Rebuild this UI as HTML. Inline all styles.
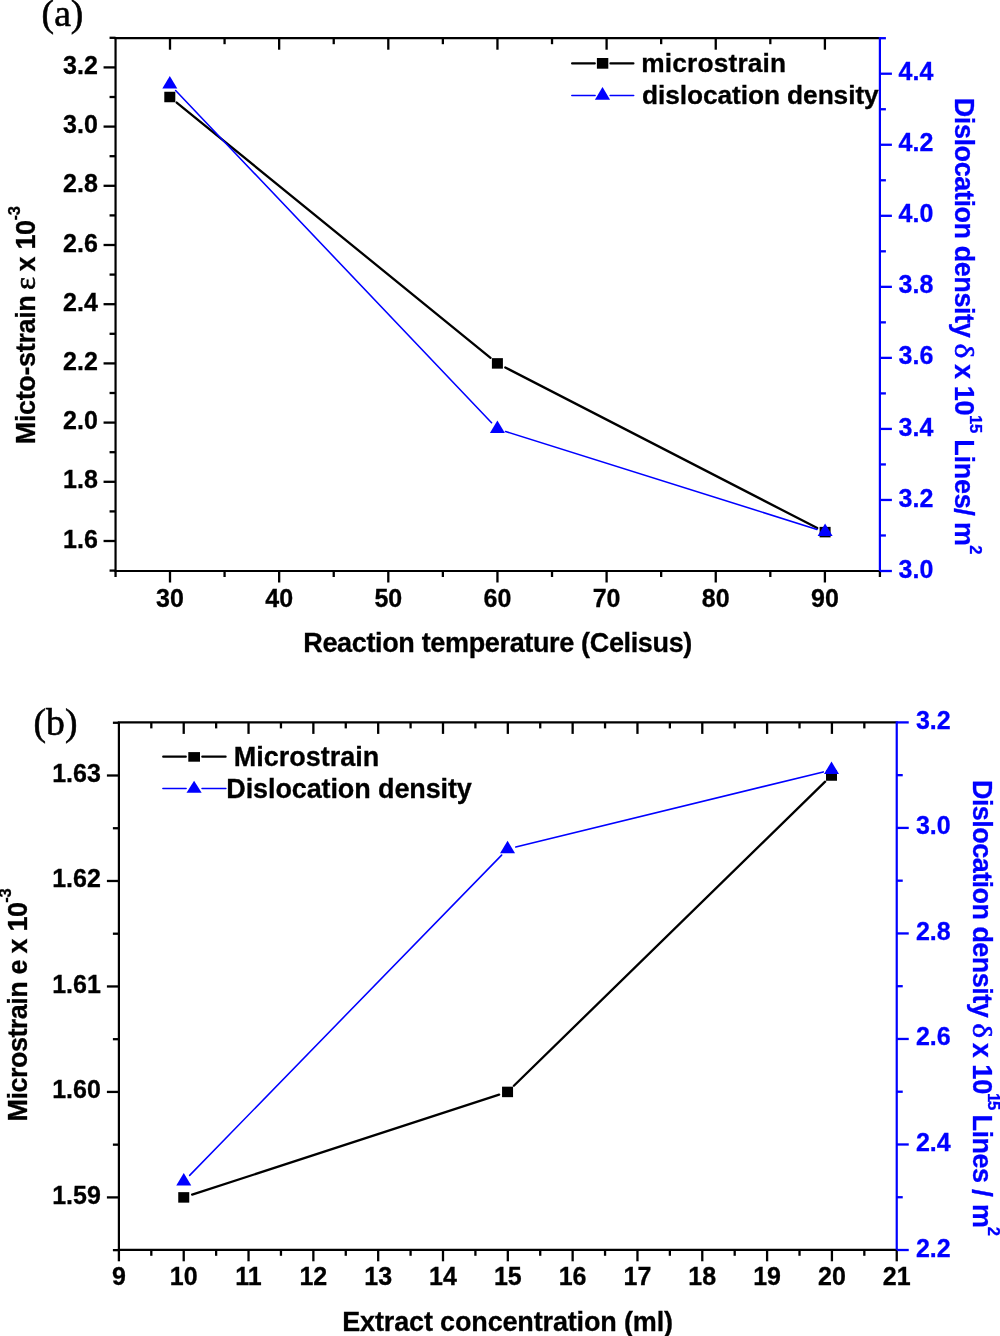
<!DOCTYPE html>
<html><head><meta charset="utf-8"><title>Microstrain and dislocation density</title>
<style>
html,body{margin:0;padding:0;background:#fff;}
svg{display:block;}
svg{font-family:'Liberation Sans', Arial, sans-serif;font-weight:bold;}
</style></head>
<body>
<svg width="1000" height="1336" viewBox="0 0 1000 1336">
<rect width="1000" height="1336" fill="#fff"/>
<line x1="115.55" y1="571.00" x2="115.55" y2="577.00" stroke="#000" stroke-width="2.3" stroke-linecap="butt"/>
<line x1="170.00" y1="571.00" x2="170.00" y2="582.50" stroke="#000" stroke-width="2.3" stroke-linecap="butt"/>
<line x1="170.00" y1="38.20" x2="170.00" y2="49.70" stroke="#000" stroke-width="2.3" stroke-linecap="butt"/>
<text x="170.00" y="606.60" text-anchor="middle" font-size="25" fill="#000" stroke="#000" stroke-width="0.3" >30</text>
<line x1="224.57" y1="571.00" x2="224.57" y2="577.00" stroke="#000" stroke-width="2.3" stroke-linecap="butt"/>
<line x1="224.57" y1="38.20" x2="224.57" y2="44.20" stroke="#000" stroke-width="2.3" stroke-linecap="butt"/>
<line x1="279.15" y1="571.00" x2="279.15" y2="582.50" stroke="#000" stroke-width="2.3" stroke-linecap="butt"/>
<line x1="279.15" y1="38.20" x2="279.15" y2="49.70" stroke="#000" stroke-width="2.3" stroke-linecap="butt"/>
<text x="279.15" y="606.60" text-anchor="middle" font-size="25" fill="#000" stroke="#000" stroke-width="0.3" >40</text>
<line x1="333.73" y1="571.00" x2="333.73" y2="577.00" stroke="#000" stroke-width="2.3" stroke-linecap="butt"/>
<line x1="333.73" y1="38.20" x2="333.73" y2="44.20" stroke="#000" stroke-width="2.3" stroke-linecap="butt"/>
<line x1="388.30" y1="571.00" x2="388.30" y2="582.50" stroke="#000" stroke-width="2.3" stroke-linecap="butt"/>
<line x1="388.30" y1="38.20" x2="388.30" y2="49.70" stroke="#000" stroke-width="2.3" stroke-linecap="butt"/>
<text x="388.30" y="606.60" text-anchor="middle" font-size="25" fill="#000" stroke="#000" stroke-width="0.3" >50</text>
<line x1="442.88" y1="571.00" x2="442.88" y2="577.00" stroke="#000" stroke-width="2.3" stroke-linecap="butt"/>
<line x1="442.88" y1="38.20" x2="442.88" y2="44.20" stroke="#000" stroke-width="2.3" stroke-linecap="butt"/>
<line x1="497.45" y1="571.00" x2="497.45" y2="582.50" stroke="#000" stroke-width="2.3" stroke-linecap="butt"/>
<line x1="497.45" y1="38.20" x2="497.45" y2="49.70" stroke="#000" stroke-width="2.3" stroke-linecap="butt"/>
<text x="497.45" y="606.60" text-anchor="middle" font-size="25" fill="#000" stroke="#000" stroke-width="0.3" >60</text>
<line x1="552.02" y1="571.00" x2="552.02" y2="577.00" stroke="#000" stroke-width="2.3" stroke-linecap="butt"/>
<line x1="552.02" y1="38.20" x2="552.02" y2="44.20" stroke="#000" stroke-width="2.3" stroke-linecap="butt"/>
<line x1="606.60" y1="571.00" x2="606.60" y2="582.50" stroke="#000" stroke-width="2.3" stroke-linecap="butt"/>
<line x1="606.60" y1="38.20" x2="606.60" y2="49.70" stroke="#000" stroke-width="2.3" stroke-linecap="butt"/>
<text x="606.60" y="606.60" text-anchor="middle" font-size="25" fill="#000" stroke="#000" stroke-width="0.3" >70</text>
<line x1="661.17" y1="571.00" x2="661.17" y2="577.00" stroke="#000" stroke-width="2.3" stroke-linecap="butt"/>
<line x1="661.17" y1="38.20" x2="661.17" y2="44.20" stroke="#000" stroke-width="2.3" stroke-linecap="butt"/>
<line x1="715.75" y1="571.00" x2="715.75" y2="582.50" stroke="#000" stroke-width="2.3" stroke-linecap="butt"/>
<line x1="715.75" y1="38.20" x2="715.75" y2="49.70" stroke="#000" stroke-width="2.3" stroke-linecap="butt"/>
<text x="715.75" y="606.60" text-anchor="middle" font-size="25" fill="#000" stroke="#000" stroke-width="0.3" >80</text>
<line x1="770.32" y1="571.00" x2="770.32" y2="577.00" stroke="#000" stroke-width="2.3" stroke-linecap="butt"/>
<line x1="770.32" y1="38.20" x2="770.32" y2="44.20" stroke="#000" stroke-width="2.3" stroke-linecap="butt"/>
<line x1="824.90" y1="571.00" x2="824.90" y2="582.50" stroke="#000" stroke-width="2.3" stroke-linecap="butt"/>
<line x1="824.90" y1="38.20" x2="824.90" y2="49.70" stroke="#000" stroke-width="2.3" stroke-linecap="butt"/>
<text x="824.90" y="606.60" text-anchor="middle" font-size="25" fill="#000" stroke="#000" stroke-width="0.3" >90</text>
<line x1="879.90" y1="571.00" x2="879.90" y2="577.00" stroke="#000" stroke-width="2.3" stroke-linecap="butt"/>
<line x1="109.55" y1="570.60" x2="115.55" y2="570.60" stroke="#000" stroke-width="2.3" stroke-linecap="butt"/>
<line x1="103.55" y1="541.00" x2="115.55" y2="541.00" stroke="#000" stroke-width="2.3" stroke-linecap="butt"/>
<text x="97.80" y="547.60" text-anchor="end" font-size="25" fill="#000" stroke="#000" stroke-width="0.3" >1.6</text>
<line x1="109.55" y1="511.40" x2="115.55" y2="511.40" stroke="#000" stroke-width="2.3" stroke-linecap="butt"/>
<line x1="103.55" y1="481.80" x2="115.55" y2="481.80" stroke="#000" stroke-width="2.3" stroke-linecap="butt"/>
<text x="97.80" y="488.40" text-anchor="end" font-size="25" fill="#000" stroke="#000" stroke-width="0.3" >1.8</text>
<line x1="109.55" y1="452.20" x2="115.55" y2="452.20" stroke="#000" stroke-width="2.3" stroke-linecap="butt"/>
<line x1="103.55" y1="422.60" x2="115.55" y2="422.60" stroke="#000" stroke-width="2.3" stroke-linecap="butt"/>
<text x="97.80" y="429.20" text-anchor="end" font-size="25" fill="#000" stroke="#000" stroke-width="0.3" >2.0</text>
<line x1="109.55" y1="393.00" x2="115.55" y2="393.00" stroke="#000" stroke-width="2.3" stroke-linecap="butt"/>
<line x1="103.55" y1="363.40" x2="115.55" y2="363.40" stroke="#000" stroke-width="2.3" stroke-linecap="butt"/>
<text x="97.80" y="370.00" text-anchor="end" font-size="25" fill="#000" stroke="#000" stroke-width="0.3" >2.2</text>
<line x1="109.55" y1="333.80" x2="115.55" y2="333.80" stroke="#000" stroke-width="2.3" stroke-linecap="butt"/>
<line x1="103.55" y1="304.20" x2="115.55" y2="304.20" stroke="#000" stroke-width="2.3" stroke-linecap="butt"/>
<text x="97.80" y="310.80" text-anchor="end" font-size="25" fill="#000" stroke="#000" stroke-width="0.3" >2.4</text>
<line x1="109.55" y1="274.60" x2="115.55" y2="274.60" stroke="#000" stroke-width="2.3" stroke-linecap="butt"/>
<line x1="103.55" y1="245.00" x2="115.55" y2="245.00" stroke="#000" stroke-width="2.3" stroke-linecap="butt"/>
<text x="97.80" y="251.60" text-anchor="end" font-size="25" fill="#000" stroke="#000" stroke-width="0.3" >2.6</text>
<line x1="109.55" y1="215.40" x2="115.55" y2="215.40" stroke="#000" stroke-width="2.3" stroke-linecap="butt"/>
<line x1="103.55" y1="185.80" x2="115.55" y2="185.80" stroke="#000" stroke-width="2.3" stroke-linecap="butt"/>
<text x="97.80" y="192.40" text-anchor="end" font-size="25" fill="#000" stroke="#000" stroke-width="0.3" >2.8</text>
<line x1="109.55" y1="156.20" x2="115.55" y2="156.20" stroke="#000" stroke-width="2.3" stroke-linecap="butt"/>
<line x1="103.55" y1="126.60" x2="115.55" y2="126.60" stroke="#000" stroke-width="2.3" stroke-linecap="butt"/>
<text x="97.80" y="133.20" text-anchor="end" font-size="25" fill="#000" stroke="#000" stroke-width="0.3" >3.0</text>
<line x1="109.55" y1="97.00" x2="115.55" y2="97.00" stroke="#000" stroke-width="2.3" stroke-linecap="butt"/>
<line x1="103.55" y1="67.40" x2="115.55" y2="67.40" stroke="#000" stroke-width="2.3" stroke-linecap="butt"/>
<text x="97.80" y="74.00" text-anchor="end" font-size="25" fill="#000" stroke="#000" stroke-width="0.3" >3.2</text>
<line x1="109.55" y1="37.80" x2="115.55" y2="37.80" stroke="#000" stroke-width="2.3" stroke-linecap="butt"/>
<line x1="879.90" y1="571.00" x2="891.90" y2="571.00" stroke="#0000ff" stroke-width="2.3" stroke-linecap="butt"/>
<text x="898.60" y="577.60" text-anchor="start" font-size="25" fill="#0000ff" stroke="#0000ff" stroke-width="0.3" >3.0</text>
<line x1="879.90" y1="535.48" x2="885.90" y2="535.48" stroke="#0000ff" stroke-width="2.3" stroke-linecap="butt"/>
<line x1="879.90" y1="499.96" x2="891.90" y2="499.96" stroke="#0000ff" stroke-width="2.3" stroke-linecap="butt"/>
<text x="898.60" y="506.56" text-anchor="start" font-size="25" fill="#0000ff" stroke="#0000ff" stroke-width="0.3" >3.2</text>
<line x1="879.90" y1="464.44" x2="885.90" y2="464.44" stroke="#0000ff" stroke-width="2.3" stroke-linecap="butt"/>
<line x1="879.90" y1="428.92" x2="891.90" y2="428.92" stroke="#0000ff" stroke-width="2.3" stroke-linecap="butt"/>
<text x="898.60" y="435.52" text-anchor="start" font-size="25" fill="#0000ff" stroke="#0000ff" stroke-width="0.3" >3.4</text>
<line x1="879.90" y1="393.40" x2="885.90" y2="393.40" stroke="#0000ff" stroke-width="2.3" stroke-linecap="butt"/>
<line x1="879.90" y1="357.88" x2="891.90" y2="357.88" stroke="#0000ff" stroke-width="2.3" stroke-linecap="butt"/>
<text x="898.60" y="364.48" text-anchor="start" font-size="25" fill="#0000ff" stroke="#0000ff" stroke-width="0.3" >3.6</text>
<line x1="879.90" y1="322.36" x2="885.90" y2="322.36" stroke="#0000ff" stroke-width="2.3" stroke-linecap="butt"/>
<line x1="879.90" y1="286.84" x2="891.90" y2="286.84" stroke="#0000ff" stroke-width="2.3" stroke-linecap="butt"/>
<text x="898.60" y="293.44" text-anchor="start" font-size="25" fill="#0000ff" stroke="#0000ff" stroke-width="0.3" >3.8</text>
<line x1="879.90" y1="251.32" x2="885.90" y2="251.32" stroke="#0000ff" stroke-width="2.3" stroke-linecap="butt"/>
<line x1="879.90" y1="215.80" x2="891.90" y2="215.80" stroke="#0000ff" stroke-width="2.3" stroke-linecap="butt"/>
<text x="898.60" y="222.40" text-anchor="start" font-size="25" fill="#0000ff" stroke="#0000ff" stroke-width="0.3" >4.0</text>
<line x1="879.90" y1="180.28" x2="885.90" y2="180.28" stroke="#0000ff" stroke-width="2.3" stroke-linecap="butt"/>
<line x1="879.90" y1="144.76" x2="891.90" y2="144.76" stroke="#0000ff" stroke-width="2.3" stroke-linecap="butt"/>
<text x="898.60" y="151.36" text-anchor="start" font-size="25" fill="#0000ff" stroke="#0000ff" stroke-width="0.3" >4.2</text>
<line x1="879.90" y1="109.24" x2="885.90" y2="109.24" stroke="#0000ff" stroke-width="2.3" stroke-linecap="butt"/>
<line x1="879.90" y1="73.72" x2="891.90" y2="73.72" stroke="#0000ff" stroke-width="2.3" stroke-linecap="butt"/>
<text x="898.60" y="80.32" text-anchor="start" font-size="25" fill="#0000ff" stroke="#0000ff" stroke-width="0.3" >4.4</text>
<line x1="879.90" y1="38.20" x2="885.90" y2="38.20" stroke="#0000ff" stroke-width="2.3" stroke-linecap="butt"/>
<line x1="114.45" y1="38.20" x2="879.90" y2="38.20" stroke="#000" stroke-width="2.2" stroke-linecap="butt"/>
<line x1="114.45" y1="571.00" x2="879.90" y2="571.00" stroke="#000" stroke-width="2.2" stroke-linecap="butt"/>
<line x1="115.55" y1="38.20" x2="115.55" y2="572.10" stroke="#000" stroke-width="2.2" stroke-linecap="butt"/>
<line x1="879.90" y1="37.10" x2="879.90" y2="571.00" stroke="#0000ff" stroke-width="2.2" stroke-linecap="butt"/>
<line x1="176.67" y1="102.58" x2="490.53" y2="357.82" stroke="#000" stroke-width="2.3" stroke-linecap="round"/>
<line x1="505.27" y1="367.45" x2="817.23" y2="528.07" stroke="#000" stroke-width="2.3" stroke-linecap="round"/>
<rect x="164.30" y="91.75" width="11" height="10.5" fill="#000"/>
<rect x="491.90" y="358.15" width="11" height="10.5" fill="#000"/>
<rect x="819.60" y="526.87" width="11" height="10.5" fill="#000"/>
<line x1="175.64" y1="90.52" x2="491.56" y2="422.78" stroke="#0000ff" stroke-width="1.55" stroke-linecap="round"/>
<line x1="505.48" y1="431.46" x2="817.02" y2="529.39" stroke="#0000ff" stroke-width="1.55" stroke-linecap="round"/>
<polygon points="169.80,76.04 162.30,88.54 177.30,88.54" fill="#0000ff"/>
<polygon points="497.40,420.59 489.90,433.09 504.90,433.09" fill="#0000ff"/>
<polygon points="825.10,523.59 817.60,536.09 832.60,536.09" fill="#0000ff"/>
<line x1="118.90" y1="1249.80" x2="118.90" y2="1261.30" stroke="#000" stroke-width="2.3" stroke-linecap="butt"/>
<text x="118.90" y="1284.70" text-anchor="middle" font-size="25" fill="#000" stroke="#000" stroke-width="0.3" >9</text>
<line x1="151.31" y1="1249.80" x2="151.31" y2="1255.80" stroke="#000" stroke-width="2.3" stroke-linecap="butt"/>
<line x1="151.31" y1="722.40" x2="151.31" y2="728.40" stroke="#000" stroke-width="2.3" stroke-linecap="butt"/>
<line x1="183.72" y1="1249.80" x2="183.72" y2="1261.30" stroke="#000" stroke-width="2.3" stroke-linecap="butt"/>
<line x1="183.72" y1="722.40" x2="183.72" y2="733.90" stroke="#000" stroke-width="2.3" stroke-linecap="butt"/>
<text x="183.72" y="1284.70" text-anchor="middle" font-size="25" fill="#000" stroke="#000" stroke-width="0.3" >10</text>
<line x1="216.13" y1="1249.80" x2="216.13" y2="1255.80" stroke="#000" stroke-width="2.3" stroke-linecap="butt"/>
<line x1="216.13" y1="722.40" x2="216.13" y2="728.40" stroke="#000" stroke-width="2.3" stroke-linecap="butt"/>
<line x1="248.54" y1="1249.80" x2="248.54" y2="1261.30" stroke="#000" stroke-width="2.3" stroke-linecap="butt"/>
<line x1="248.54" y1="722.40" x2="248.54" y2="733.90" stroke="#000" stroke-width="2.3" stroke-linecap="butt"/>
<text x="248.54" y="1284.70" text-anchor="middle" font-size="25" fill="#000" stroke="#000" stroke-width="0.3" >11</text>
<line x1="280.95" y1="1249.80" x2="280.95" y2="1255.80" stroke="#000" stroke-width="2.3" stroke-linecap="butt"/>
<line x1="280.95" y1="722.40" x2="280.95" y2="728.40" stroke="#000" stroke-width="2.3" stroke-linecap="butt"/>
<line x1="313.36" y1="1249.80" x2="313.36" y2="1261.30" stroke="#000" stroke-width="2.3" stroke-linecap="butt"/>
<line x1="313.36" y1="722.40" x2="313.36" y2="733.90" stroke="#000" stroke-width="2.3" stroke-linecap="butt"/>
<text x="313.36" y="1284.70" text-anchor="middle" font-size="25" fill="#000" stroke="#000" stroke-width="0.3" >12</text>
<line x1="345.77" y1="1249.80" x2="345.77" y2="1255.80" stroke="#000" stroke-width="2.3" stroke-linecap="butt"/>
<line x1="345.77" y1="722.40" x2="345.77" y2="728.40" stroke="#000" stroke-width="2.3" stroke-linecap="butt"/>
<line x1="378.18" y1="1249.80" x2="378.18" y2="1261.30" stroke="#000" stroke-width="2.3" stroke-linecap="butt"/>
<line x1="378.18" y1="722.40" x2="378.18" y2="733.90" stroke="#000" stroke-width="2.3" stroke-linecap="butt"/>
<text x="378.18" y="1284.70" text-anchor="middle" font-size="25" fill="#000" stroke="#000" stroke-width="0.3" >13</text>
<line x1="410.59" y1="1249.80" x2="410.59" y2="1255.80" stroke="#000" stroke-width="2.3" stroke-linecap="butt"/>
<line x1="410.59" y1="722.40" x2="410.59" y2="728.40" stroke="#000" stroke-width="2.3" stroke-linecap="butt"/>
<line x1="443.00" y1="1249.80" x2="443.00" y2="1261.30" stroke="#000" stroke-width="2.3" stroke-linecap="butt"/>
<line x1="443.00" y1="722.40" x2="443.00" y2="733.90" stroke="#000" stroke-width="2.3" stroke-linecap="butt"/>
<text x="443.00" y="1284.70" text-anchor="middle" font-size="25" fill="#000" stroke="#000" stroke-width="0.3" >14</text>
<line x1="475.41" y1="1249.80" x2="475.41" y2="1255.80" stroke="#000" stroke-width="2.3" stroke-linecap="butt"/>
<line x1="475.41" y1="722.40" x2="475.41" y2="728.40" stroke="#000" stroke-width="2.3" stroke-linecap="butt"/>
<line x1="507.82" y1="1249.80" x2="507.82" y2="1261.30" stroke="#000" stroke-width="2.3" stroke-linecap="butt"/>
<line x1="507.82" y1="722.40" x2="507.82" y2="733.90" stroke="#000" stroke-width="2.3" stroke-linecap="butt"/>
<text x="507.82" y="1284.70" text-anchor="middle" font-size="25" fill="#000" stroke="#000" stroke-width="0.3" >15</text>
<line x1="540.23" y1="1249.80" x2="540.23" y2="1255.80" stroke="#000" stroke-width="2.3" stroke-linecap="butt"/>
<line x1="540.23" y1="722.40" x2="540.23" y2="728.40" stroke="#000" stroke-width="2.3" stroke-linecap="butt"/>
<line x1="572.64" y1="1249.80" x2="572.64" y2="1261.30" stroke="#000" stroke-width="2.3" stroke-linecap="butt"/>
<line x1="572.64" y1="722.40" x2="572.64" y2="733.90" stroke="#000" stroke-width="2.3" stroke-linecap="butt"/>
<text x="572.64" y="1284.70" text-anchor="middle" font-size="25" fill="#000" stroke="#000" stroke-width="0.3" >16</text>
<line x1="605.05" y1="1249.80" x2="605.05" y2="1255.80" stroke="#000" stroke-width="2.3" stroke-linecap="butt"/>
<line x1="605.05" y1="722.40" x2="605.05" y2="728.40" stroke="#000" stroke-width="2.3" stroke-linecap="butt"/>
<line x1="637.46" y1="1249.80" x2="637.46" y2="1261.30" stroke="#000" stroke-width="2.3" stroke-linecap="butt"/>
<line x1="637.46" y1="722.40" x2="637.46" y2="733.90" stroke="#000" stroke-width="2.3" stroke-linecap="butt"/>
<text x="637.46" y="1284.70" text-anchor="middle" font-size="25" fill="#000" stroke="#000" stroke-width="0.3" >17</text>
<line x1="669.87" y1="1249.80" x2="669.87" y2="1255.80" stroke="#000" stroke-width="2.3" stroke-linecap="butt"/>
<line x1="669.87" y1="722.40" x2="669.87" y2="728.40" stroke="#000" stroke-width="2.3" stroke-linecap="butt"/>
<line x1="702.28" y1="1249.80" x2="702.28" y2="1261.30" stroke="#000" stroke-width="2.3" stroke-linecap="butt"/>
<line x1="702.28" y1="722.40" x2="702.28" y2="733.90" stroke="#000" stroke-width="2.3" stroke-linecap="butt"/>
<text x="702.28" y="1284.70" text-anchor="middle" font-size="25" fill="#000" stroke="#000" stroke-width="0.3" >18</text>
<line x1="734.69" y1="1249.80" x2="734.69" y2="1255.80" stroke="#000" stroke-width="2.3" stroke-linecap="butt"/>
<line x1="734.69" y1="722.40" x2="734.69" y2="728.40" stroke="#000" stroke-width="2.3" stroke-linecap="butt"/>
<line x1="767.10" y1="1249.80" x2="767.10" y2="1261.30" stroke="#000" stroke-width="2.3" stroke-linecap="butt"/>
<line x1="767.10" y1="722.40" x2="767.10" y2="733.90" stroke="#000" stroke-width="2.3" stroke-linecap="butt"/>
<text x="767.10" y="1284.70" text-anchor="middle" font-size="25" fill="#000" stroke="#000" stroke-width="0.3" >19</text>
<line x1="799.51" y1="1249.80" x2="799.51" y2="1255.80" stroke="#000" stroke-width="2.3" stroke-linecap="butt"/>
<line x1="799.51" y1="722.40" x2="799.51" y2="728.40" stroke="#000" stroke-width="2.3" stroke-linecap="butt"/>
<line x1="831.92" y1="1249.80" x2="831.92" y2="1261.30" stroke="#000" stroke-width="2.3" stroke-linecap="butt"/>
<line x1="831.92" y1="722.40" x2="831.92" y2="733.90" stroke="#000" stroke-width="2.3" stroke-linecap="butt"/>
<text x="831.92" y="1284.70" text-anchor="middle" font-size="25" fill="#000" stroke="#000" stroke-width="0.3" >20</text>
<line x1="864.33" y1="1249.80" x2="864.33" y2="1255.80" stroke="#000" stroke-width="2.3" stroke-linecap="butt"/>
<line x1="864.33" y1="722.40" x2="864.33" y2="728.40" stroke="#000" stroke-width="2.3" stroke-linecap="butt"/>
<line x1="896.74" y1="1249.80" x2="896.74" y2="1261.30" stroke="#000" stroke-width="2.3" stroke-linecap="butt"/>
<text x="896.74" y="1284.70" text-anchor="middle" font-size="25" fill="#000" stroke="#000" stroke-width="0.3" >21</text>
<line x1="112.90" y1="1250.14" x2="118.90" y2="1250.14" stroke="#000" stroke-width="2.3" stroke-linecap="butt"/>
<line x1="106.90" y1="1197.40" x2="118.90" y2="1197.40" stroke="#000" stroke-width="2.3" stroke-linecap="butt"/>
<text x="100.80" y="1203.90" text-anchor="end" font-size="25" fill="#000" stroke="#000" stroke-width="0.3" >1.59</text>
<line x1="112.90" y1="1144.66" x2="118.90" y2="1144.66" stroke="#000" stroke-width="2.3" stroke-linecap="butt"/>
<line x1="106.90" y1="1091.93" x2="118.90" y2="1091.93" stroke="#000" stroke-width="2.3" stroke-linecap="butt"/>
<text x="100.80" y="1098.43" text-anchor="end" font-size="25" fill="#000" stroke="#000" stroke-width="0.3" >1.60</text>
<line x1="112.90" y1="1039.19" x2="118.90" y2="1039.19" stroke="#000" stroke-width="2.3" stroke-linecap="butt"/>
<line x1="106.90" y1="986.45" x2="118.90" y2="986.45" stroke="#000" stroke-width="2.3" stroke-linecap="butt"/>
<text x="100.80" y="992.95" text-anchor="end" font-size="25" fill="#000" stroke="#000" stroke-width="0.3" >1.61</text>
<line x1="112.90" y1="933.71" x2="118.90" y2="933.71" stroke="#000" stroke-width="2.3" stroke-linecap="butt"/>
<line x1="106.90" y1="880.98" x2="118.90" y2="880.98" stroke="#000" stroke-width="2.3" stroke-linecap="butt"/>
<text x="100.80" y="887.48" text-anchor="end" font-size="25" fill="#000" stroke="#000" stroke-width="0.3" >1.62</text>
<line x1="112.90" y1="828.24" x2="118.90" y2="828.24" stroke="#000" stroke-width="2.3" stroke-linecap="butt"/>
<line x1="106.90" y1="775.50" x2="118.90" y2="775.50" stroke="#000" stroke-width="2.3" stroke-linecap="butt"/>
<text x="100.80" y="782.00" text-anchor="end" font-size="25" fill="#000" stroke="#000" stroke-width="0.3" >1.63</text>
<line x1="112.90" y1="722.76" x2="118.90" y2="722.76" stroke="#000" stroke-width="2.3" stroke-linecap="butt"/>
<line x1="896.74" y1="1250.00" x2="908.74" y2="1250.00" stroke="#0000ff" stroke-width="2.3" stroke-linecap="butt"/>
<text x="915.90" y="1256.50" text-anchor="start" font-size="25" fill="#0000ff" stroke="#0000ff" stroke-width="0.3" >2.2</text>
<line x1="896.74" y1="1197.24" x2="902.74" y2="1197.24" stroke="#0000ff" stroke-width="2.3" stroke-linecap="butt"/>
<line x1="896.74" y1="1144.48" x2="908.74" y2="1144.48" stroke="#0000ff" stroke-width="2.3" stroke-linecap="butt"/>
<text x="915.90" y="1150.98" text-anchor="start" font-size="25" fill="#0000ff" stroke="#0000ff" stroke-width="0.3" >2.4</text>
<line x1="896.74" y1="1091.72" x2="902.74" y2="1091.72" stroke="#0000ff" stroke-width="2.3" stroke-linecap="butt"/>
<line x1="896.74" y1="1038.96" x2="908.74" y2="1038.96" stroke="#0000ff" stroke-width="2.3" stroke-linecap="butt"/>
<text x="915.90" y="1045.46" text-anchor="start" font-size="25" fill="#0000ff" stroke="#0000ff" stroke-width="0.3" >2.6</text>
<line x1="896.74" y1="986.20" x2="902.74" y2="986.20" stroke="#0000ff" stroke-width="2.3" stroke-linecap="butt"/>
<line x1="896.74" y1="933.44" x2="908.74" y2="933.44" stroke="#0000ff" stroke-width="2.3" stroke-linecap="butt"/>
<text x="915.90" y="939.94" text-anchor="start" font-size="25" fill="#0000ff" stroke="#0000ff" stroke-width="0.3" >2.8</text>
<line x1="896.74" y1="880.68" x2="902.74" y2="880.68" stroke="#0000ff" stroke-width="2.3" stroke-linecap="butt"/>
<line x1="896.74" y1="827.92" x2="908.74" y2="827.92" stroke="#0000ff" stroke-width="2.3" stroke-linecap="butt"/>
<text x="915.90" y="834.42" text-anchor="start" font-size="25" fill="#0000ff" stroke="#0000ff" stroke-width="0.3" >3.0</text>
<line x1="896.74" y1="775.16" x2="902.74" y2="775.16" stroke="#0000ff" stroke-width="2.3" stroke-linecap="butt"/>
<line x1="896.74" y1="722.40" x2="908.74" y2="722.40" stroke="#0000ff" stroke-width="2.3" stroke-linecap="butt"/>
<text x="915.90" y="728.90" text-anchor="start" font-size="25" fill="#0000ff" stroke="#0000ff" stroke-width="0.3" >3.2</text>
<line x1="117.80" y1="722.40" x2="896.74" y2="722.40" stroke="#000" stroke-width="2.2" stroke-linecap="butt"/>
<line x1="117.80" y1="1249.80" x2="896.74" y2="1249.80" stroke="#000" stroke-width="2.2" stroke-linecap="butt"/>
<line x1="118.90" y1="722.40" x2="118.90" y2="1250.90" stroke="#000" stroke-width="2.2" stroke-linecap="butt"/>
<line x1="896.74" y1="721.30" x2="896.74" y2="1249.80" stroke="#0000ff" stroke-width="2.2" stroke-linecap="butt"/>
<line x1="192.16" y1="1194.66" x2="499.14" y2="1094.67" stroke="#000" stroke-width="2.3" stroke-linecap="round"/>
<line x1="513.88" y1="1085.74" x2="825.17" y2="781.68" stroke="#000" stroke-width="2.3" stroke-linecap="round"/>
<rect x="178.25" y="1192.15" width="11" height="10.5" fill="#000"/>
<rect x="502.05" y="1086.67" width="11" height="10.5" fill="#000"/>
<rect x="826.00" y="770.25" width="11" height="10.5" fill="#000"/>
<line x1="189.66" y1="1175.34" x2="501.64" y2="855.09" stroke="#0000ff" stroke-width="1.55" stroke-linecap="round"/>
<line x1="515.78" y1="847.01" x2="823.27" y2="771.90" stroke="#0000ff" stroke-width="1.55" stroke-linecap="round"/>
<polygon points="183.75,1173.08 176.25,1185.58 191.25,1185.58" fill="#0000ff"/>
<polygon points="507.55,840.69 500.05,853.19 515.05,853.19" fill="#0000ff"/>
<polygon points="831.50,761.55 824.00,774.05 839.00,774.05" fill="#0000ff"/>
<line x1="572.10" y1="63.40" x2="594.80" y2="63.40" stroke="#000" stroke-width="2.2" stroke-linecap="round"/>
<line x1="610.40" y1="63.40" x2="633.40" y2="63.40" stroke="#000" stroke-width="2.2" stroke-linecap="round"/>
<rect x="596.90" y="58.00" width="11.4" height="10.7" fill="#000"/>
<line x1="571.80" y1="95.50" x2="595.10" y2="95.50" stroke="#0000ff" stroke-width="1.5" stroke-linecap="round"/>
<line x1="610.10" y1="95.50" x2="633.70" y2="95.50" stroke="#0000ff" stroke-width="1.5" stroke-linecap="round"/>
<polygon points="602.50,87.00 594.90,99.80 610.10,99.80" fill="#0000ff"/>
<line x1="163.20" y1="756.70" x2="185.80" y2="756.70" stroke="#000" stroke-width="2.2" stroke-linecap="round"/>
<line x1="202.30" y1="756.70" x2="225.60" y2="756.70" stroke="#000" stroke-width="2.2" stroke-linecap="round"/>
<rect x="188.30" y="752.10" width="11.7" height="9.6" fill="#000"/>
<line x1="162.90" y1="788.40" x2="186.10" y2="788.40" stroke="#0000ff" stroke-width="1.5" stroke-linecap="round"/>
<line x1="202.00" y1="788.40" x2="225.90" y2="788.40" stroke="#0000ff" stroke-width="1.5" stroke-linecap="round"/>
<polygon points="194.10,780.70 186.50,792.80 201.70,792.80" fill="#0000ff"/>
<text transform="translate(641.25,72.00)" font-size="26.3" fill="#000" stroke="#000" stroke-width="0.3" style="font-family:'Liberation Sans', Arial, sans-serif;font-weight:bold;letter-spacing:0.165px">microstrain</text>
<text transform="translate(642.00,104.00)" font-size="26.3" fill="#000" stroke="#000" stroke-width="0.3" style="font-family:'Liberation Sans', Arial, sans-serif;font-weight:bold;letter-spacing:-0.083px">dislocation density</text>
<text transform="translate(233.85,765.90)" font-size="27" fill="#000" stroke="#000" stroke-width="0.3" style="font-family:'Liberation Sans', Arial, sans-serif;font-weight:bold;letter-spacing:-0.015px">Microstrain</text>
<text transform="translate(226.35,797.80)" font-size="27" fill="#000" stroke="#000" stroke-width="0.3" style="font-family:'Liberation Sans', Arial, sans-serif;font-weight:bold;letter-spacing:-0.114px">Dislocation density</text>
<text transform="translate(303.25,652.00)" font-size="27" fill="#000" stroke="#000" stroke-width="0.3" style="font-family:'Liberation Sans', Arial, sans-serif;font-weight:bold;letter-spacing:-0.345px">Reaction temperature (Celisus)</text>
<text transform="translate(342.25,1330.60)" font-size="27" fill="#000" stroke="#000" stroke-width="0.3" style="font-family:'Liberation Sans', Arial, sans-serif;font-weight:bold;letter-spacing:-0.152px">Extract concentration (ml)</text>
<text transform="translate(35.00,444.25) rotate(-90)" font-size="27" fill="#000" stroke="#000" stroke-width="0.3" style="font-family:'Liberation Sans', Arial, sans-serif;font-weight:bold;letter-spacing:-0.355px">Micto-strain</text>
<text transform="translate(35.00,289.88) rotate(-90) scale(1.0829,1)" font-size="28.7" fill="#000" stroke="#000" stroke-width="0.6" style="font-family:'Liberation Serif', 'Times New Roman', serif;font-weight:normal">ε</text>
<text transform="translate(35.00,271.60) rotate(-90)" font-size="27" fill="#000" stroke="#000" stroke-width="0.3" style="font-family:'Liberation Sans', Arial, sans-serif;font-weight:bold">x</text>
<text transform="translate(35.00,249.55) rotate(-90)" font-size="27" fill="#000" stroke="#000" stroke-width="0.3" style="font-family:'Liberation Sans', Arial, sans-serif;font-weight:bold;letter-spacing:-0.450px">10</text>
<text transform="translate(20.00,220.55) rotate(-90)" font-size="16.6" fill="#000" stroke="#000" stroke-width="0.3" style="font-family:'Liberation Sans', Arial, sans-serif;font-weight:bold;letter-spacing:-0.150px">-3</text>
<text transform="translate(26.60,1121.55) rotate(-90)" font-size="27" fill="#000" stroke="#000" stroke-width="0.3" style="font-family:'Liberation Sans', Arial, sans-serif;font-weight:bold;letter-spacing:-0.515px">Microstrain</text>
<text transform="translate(26.60,974.60) rotate(-90)" font-size="27" fill="#000" stroke="#000" stroke-width="0.3" style="font-family:'Liberation Sans', Arial, sans-serif;font-weight:bold">e</text>
<text transform="translate(26.60,953.40) rotate(-90)" font-size="27" fill="#000" stroke="#000" stroke-width="0.3" style="font-family:'Liberation Sans', Arial, sans-serif;font-weight:bold">x</text>
<text transform="translate(26.60,931.45) rotate(-90)" font-size="27" fill="#000" stroke="#000" stroke-width="0.3" style="font-family:'Liberation Sans', Arial, sans-serif;font-weight:bold;letter-spacing:-0.650px">10</text>
<text transform="translate(11.40,902.65) rotate(-90)" font-size="16.6" fill="#000" stroke="#000" stroke-width="0.3" style="font-family:'Liberation Sans', Arial, sans-serif;font-weight:bold;letter-spacing:-0.350px">-3</text>
<text transform="translate(955.10,97.75) rotate(90)" font-size="27" fill="#0000ff" stroke="#0000ff" stroke-width="0.3" style="font-family:'Liberation Sans', Arial, sans-serif;font-weight:bold;letter-spacing:-0.425px">Dislocation density</text>
<text transform="translate(955.10,343.45) rotate(90) scale(1.1535,1)" font-size="27.4" fill="#0000ff" stroke="#0000ff" stroke-width="0.6" style="font-family:'Liberation Serif', 'Times New Roman', serif;font-weight:normal">δ</text>
<text transform="translate(955.10,364.00) rotate(90)" font-size="27" fill="#0000ff" stroke="#0000ff" stroke-width="0.3" style="font-family:'Liberation Sans', Arial, sans-serif;font-weight:bold">x</text>
<text transform="translate(955.10,385.85) rotate(90)" font-size="27" fill="#0000ff" stroke="#0000ff" stroke-width="0.3" style="font-family:'Liberation Sans', Arial, sans-serif;font-weight:bold;letter-spacing:-0.350px">10</text>
<text transform="translate(970.10,415.00) rotate(90)" font-size="16.6" fill="#0000ff" stroke="#0000ff" stroke-width="0.3" style="font-family:'Liberation Sans', Arial, sans-serif;font-weight:bold;letter-spacing:-0.200px">15</text>
<text transform="translate(955.10,439.35) rotate(90)" font-size="27" fill="#0000ff" stroke="#0000ff" stroke-width="0.3" style="font-family:'Liberation Sans', Arial, sans-serif;font-weight:bold;letter-spacing:-0.300px">Lines/</text>
<text transform="translate(955.10,522.05) rotate(90)" font-size="27" fill="#0000ff" stroke="#0000ff" stroke-width="0.3" style="font-family:'Liberation Sans', Arial, sans-serif;font-weight:bold">m</text>
<text transform="translate(970.10,545.15) rotate(90)" font-size="16.6" fill="#0000ff" stroke="#0000ff" stroke-width="0.3" style="font-family:'Liberation Sans', Arial, sans-serif;font-weight:bold">2</text>
<text transform="translate(973.20,779.95) rotate(90)" font-size="27" fill="#0000ff" stroke="#0000ff" stroke-width="0.3" style="font-family:'Liberation Sans', Arial, sans-serif;font-weight:bold;letter-spacing:-0.547px">Dislocation density</text>
<text transform="translate(973.20,1023.15) rotate(90) scale(1.1535,1)" font-size="27.4" fill="#0000ff" stroke="#0000ff" stroke-width="0.6" style="font-family:'Liberation Serif', 'Times New Roman', serif;font-weight:normal">δ</text>
<text transform="translate(973.20,1042.65) rotate(90)" font-size="27" fill="#0000ff" stroke="#0000ff" stroke-width="0.3" style="font-family:'Liberation Sans', Arial, sans-serif;font-weight:bold">x</text>
<text transform="translate(973.20,1064.15) rotate(90)" font-size="27" fill="#0000ff" stroke="#0000ff" stroke-width="0.3" style="font-family:'Liberation Sans', Arial, sans-serif;font-weight:bold;letter-spacing:0.050px">10</text>
<text transform="translate(988.40,1093.10) rotate(90)" font-size="16.6" fill="#0000ff" stroke="#0000ff" stroke-width="0.3" style="font-family:'Liberation Sans', Arial, sans-serif;font-weight:bold;letter-spacing:-1.300px">15</text>
<text transform="translate(973.20,1114.45) rotate(90)" font-size="27" fill="#0000ff" stroke="#0000ff" stroke-width="0.3" style="font-family:'Liberation Sans', Arial, sans-serif;font-weight:bold;letter-spacing:-0.463px">Lines</text>
<text transform="translate(973.20,1189.15) rotate(90)" font-size="27" fill="#0000ff" stroke="#0000ff" stroke-width="0.3" style="font-family:'Liberation Sans', Arial, sans-serif;font-weight:bold">/</text>
<text transform="translate(973.20,1203.95) rotate(90)" font-size="27" fill="#0000ff" stroke="#0000ff" stroke-width="0.3" style="font-family:'Liberation Sans', Arial, sans-serif;font-weight:bold">m</text>
<text transform="translate(988.40,1226.75) rotate(90)" font-size="16.6" fill="#0000ff" stroke="#0000ff" stroke-width="0.3" style="font-family:'Liberation Sans', Arial, sans-serif;font-weight:bold">2</text>
<text transform="translate(41.62,26.40)" font-size="37.6" fill="#000" stroke="#000" stroke-width="0.6" style="font-family:'Liberation Serif', 'Times New Roman', serif;font-weight:normal">(a)</text>
<text transform="translate(33.60,734.70)" font-size="37.6" fill="#000" stroke="#000" stroke-width="0.6" style="font-family:'Liberation Serif', 'Times New Roman', serif;font-weight:normal">(b)</text>
</svg>
</body></html>
